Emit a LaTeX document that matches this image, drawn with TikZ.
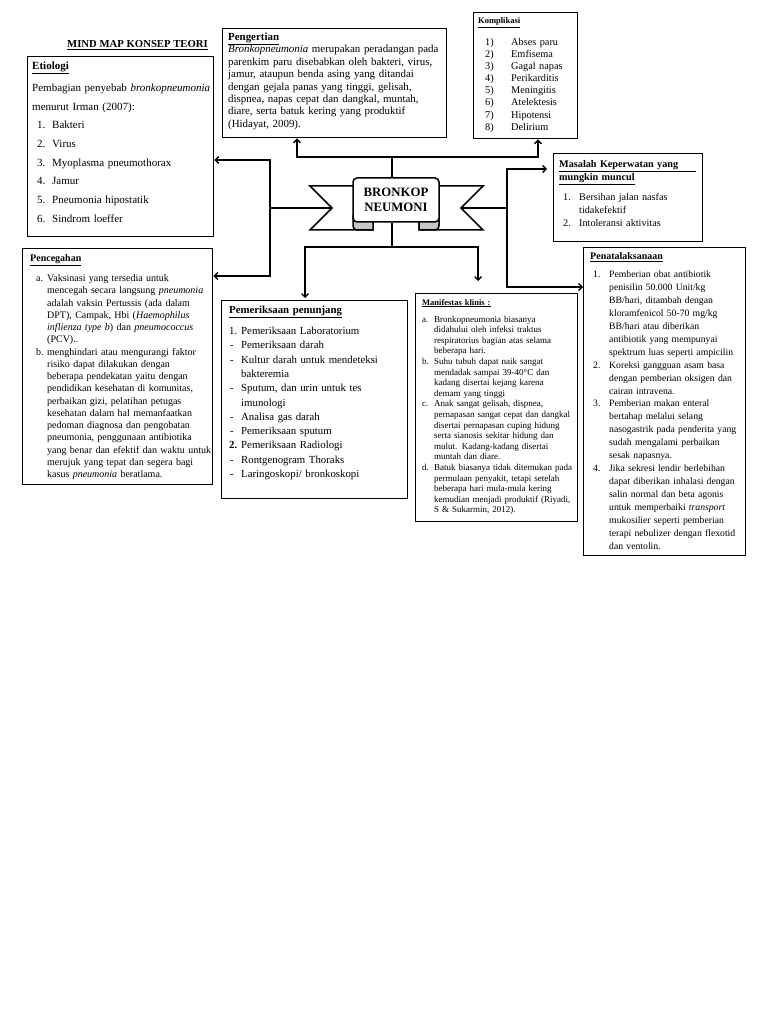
\documentclass[tikz,border=0pt]{standalone}
\usepackage{fontspec}
\setmainfont{Liberation Serif}
\usetikzlibrary{arrows.meta}
\newcommand\J[1]{\makebox[\dimexpr\linewidth-\leftskip\relax][s]{#1}}
\newcommand\li[4]{{\leftskip=\dimexpr#1+#2\relax\noindent\hspace*{-#2}\makebox[#2][l]{#3}#4\par}}
\newcommand\hd[1]{\textbf{\underline{#1}}}
\begin{document}
\begin{tikzpicture}[x=1pt,y=-1pt]
\tikzset{
  frame/.style={draw, line width=1.3pt, inner sep=0pt, anchor=north west},
  txt/.style={anchor=base west, inner sep=0pt},
  conn/.style={line width=1.4pt},
  arr/.style={conn, -{Straight Barb[length=3.5pt,width=7pt]}},
  ribbon/.style={line width=1.5pt, fill=white},
  fold/.style={line width=1.5pt, fill=gray!45},
}
\fill[white] (0,0) rectangle (768,1024);
\useasboundingbox (0,0) rectangle (768,1024);

% title
\node[txt, font=\fontsize{10.7}{12}\selectfont\bfseries] (title) at (67,47.5) {\underline{MIND MAP KONSEP TEORI}};

% frames
\node[frame, minimum width=186pt, minimum height=180pt] (eti) at (27,56) {};
\node[frame, minimum width=224pt, minimum height=109pt] (peng) at (222,28) {};
\node[frame, minimum width=104pt, minimum height=126pt] (komp) at (473,12) {};
\node[frame, minimum width=149pt, minimum height=88pt] (mas) at (553,153) {};
\node[frame, minimum width=190pt, minimum height=236pt] (pcg) at (22,248) {};
\node[frame, minimum width=186pt, minimum height=198pt] (pem) at (221,300) {};
\node[frame, minimum width=162pt, minimum height=228pt] (man) at (415,293) {};
\node[frame, minimum width=162pt, minimum height=308pt] (pnt) at (583,247) {};

% Etiologi
\node[txt, text width=178pt, font=\fontsize{11}{18.7}\selectfont] (etiT) at (32,69.5) {%
\hd{Etiologi}\par\vspace{3.3pt}
Pembagian penyebab \textit{bronkopneumonia}\par
menurut Irman (2007):\par
\li{5pt}{15pt}{1.}{Bakteri}
\li{5pt}{15pt}{2.}{Virus}
\li{5pt}{15pt}{3.}{Myoplasma pneumothorax}
\li{5pt}{15pt}{4.}{Jamur}
\li{5pt}{15pt}{5.}{Pneumonia hipostatik}
\li{5pt}{15pt}{6.}{Sindrom loeffer}};

% Pengertian
\node[txt, text width=218pt, font=\fontsize{10.9}{12.4}\selectfont] (pengT) at (228,40.5) {%
\hd{Pengertian}\\
\textit{Bronkopneumonia} merupakan peradangan pada\\
parenkim paru disebabkan oleh bakteri, virus,\\
jamur, ataupun benda asing yang ditandai\\
dengan gejala panas yang tinggi, gelisah,\\
dispnea, napas cepat dan dangkal, muntah,\\
diare, serta batuk kering yang produktif\\
(Hidayat, 2009).};

% Komplikasi
\node[txt, text width=96pt, font=\fontsize{10.3}{12.1}\selectfont] (kompT) at (478,24) {%
{\fontsize{8.5}{10}\selectfont\hd{Komplikasi}}\par\vspace{9.4pt}
\li{7pt}{26pt}{1)}{Abses paru}
\li{7pt}{26pt}{2)}{Emfisema}
\li{7pt}{26pt}{3)}{Gagal napas}
\li{7pt}{26pt}{4)}{Perikarditis}
\li{7pt}{26pt}{5)}{Meningitis}
\li{7pt}{26pt}{6)}{Atelektesis}
\li{7pt}{26pt}{7)}{Hipotensi}
\li{7pt}{26pt}{8)}{Delirium}};

% Masalah
\node[txt, text width=137pt, font=\fontsize{10.2}{13}\selectfont] (masT) at (559,167.5) {%
\textbf{\underline{\J{Masalah Keperwatan yang}}}\par
\hd{mungkin muncul}\par\vspace{7pt}
\li{4pt}{16pt}{1.}{\J{Bersihan jalan nasfas}\\tidakefektif}
\li{4pt}{16pt}{2.}{Intoleransi aktivitas}};

% Pencegahan
\node[txt, text width=175pt, font=\fontsize{10}{12.25}\selectfont] (pcgT) at (30,261.5) {%
\hd{Pencegahan}\par\vspace{7.75pt}
\li{6pt}{11pt}{a.}{\J{Vaksinasi yang tersedia untuk}\\
\J{mencegah secara langsung \textit{pneumonia}}\\
\J{adalah vaksin Pertussis (ada dalam}\\
\J{DPT), Campak, Hbi (\textit{Haemophilus}}\\
\J{\textit{inflienza type b}) dan \textit{pneumococcus}}\\
(PCV)..}
\li{6pt}{11pt}{b.}{\J{menghindari atau mengurangi faktor}\\
\J{risiko dapat dilakukan dengan}\\
\J{beberapa pendekatan yaitu dengan}\\
\J{pendidikan kesehatan di komunitas,}\\
\J{perbaikan gizi, pelatihan petugas}\\
\J{kesehatan dalam hal memanfaatkan}\\
\J{pedoman diagnosa dan pengobatan}\\
\J{pneumonia, penggunaan antibiotika}\\
\J{yang benar dan efektif dan waktu untuk}\\
\J{merujuk yang tepat dan segera bagi}\\
\J{kasus \textit{pneumonia} beratlama.}}};

% Pemeriksaan
\node[txt, text width=171pt, font=\fontsize{10.8}{14.3}\selectfont] (pemT) at (229,313.5) {%
\hd{Pemeriksaan penunjang}\par\vspace{6.7pt}
\li{0pt}{12pt}{1.}{Pemeriksaan Laboratorium}
\li{1pt}{11pt}{-}{Pemeriksaan darah}
\li{1pt}{11pt}{-}{\J{Kultur darah untuk mendeteksi}\\bakteremia}
\li{1pt}{11pt}{-}{\J{Sputum, dan urin untuk tes}\\imunologi}
\li{1pt}{11pt}{-}{Analisa gas darah}
\li{1pt}{11pt}{-}{Pemeriksaan sputum}
\li{0pt}{12pt}{\textbf{2.}}{Pemeriksaan Radiologi}
\li{1pt}{11pt}{-}{Rontgenogram Thoraks}
\li{1pt}{11pt}{-}{Laringoskopi/ bronkoskopi}};

% Manifestasi
\node[txt, text width=149pt, font=\fontsize{9}{10.6}\selectfont] (manT) at (422,305) {%
{\fontsize{8.5}{10}\selectfont\hd{Manifestas klinis :}}\par\vspace{6.4pt}
\li{0pt}{12pt}{a.}{\J{Bronkopneumonia biasanya}\\
\J{didahului oleh infeksi traktus}\\
\J{respiratorius bagian atas selama}\\
beberapa hari.}
\li{0pt}{12pt}{b.}{\J{Suhu tubuh dapat naik sangat}\\
\J{mendadak sampai 39-40°C dan}\\
\J{kadang disertai kejang karena}\\
demam yang tinggi}
\li{0pt}{12pt}{c.}{\J{Anak sangat gelisah, dispnea,}\\
\J{pernapasan sangat cepat dan dangkal}\\
\J{disertai pernapasan cuping hidung}\\
\J{serta sianosis sekitar hidung dan}\\
\J{mulut. Kadang-kadang disertai}\\
muntah dan diare.}
\li{0pt}{12pt}{d.}{\J{Batuk biasanya tidak ditemukan pada}\\
\J{permulaan penyakit, tetapi setelah}\\
\J{beberapa hari mula-mula kering}\\
\J{kemudian menjadi produktif (Riyadi,}\\
S \& Sukarmin, 2012).}};

% Penatalaksanaan
\node[txt, text width=148pt, font=\fontsize{9.7}{12.95}\selectfont] (pntT) at (590,259.5) {%
{\fontsize{10}{12}\selectfont\hd{Penatalaksanaan}}\par\vspace{5pt}
\li{3pt}{16pt}{1.}{\J{Pemberian obat antibiotik}\\
\J{penisilin 50.000 Unit/kg}\\
\J{BB/hari, ditambah dengan}\\
\J{kloramfenicol 50-70 mg/kg}\\
\J{BB/hari atau diberikan}\\
\J{antibiotik yang mempunyai}\\
\J{spektrum luas seperti ampicilin}}
\li{3pt}{16pt}{2.}{\J{Koreksi gangguan asam basa}\\
\J{dengan pemberian oksigen dan}\\
cairan intravena.}
\li{3pt}{16pt}{3.}{\J{Pemberian makan enteral}\\
\J{bertahap melalui selang}\\
\J{nasogastrik pada penderita yang}\\
\J{sudah mengalami perbaikan}\\
sesak napasnya.}
\li{3pt}{16pt}{4.}{\J{Jika sekresi lendir berlebihan}\\
\J{dapat diberikan inhalasi dengan}\\
\J{salin normal dan beta agonis}\\
\J{untuk memperbaiki \textit{transport}}\\
\J{mukosilier seperti pemberian}\\
\J{terapi nebulizer dengan flexotid}\\
dan ventolin.}};

% ribbon
\draw[ribbon] (373,222) -- (373,230) -- (310,230) -- (332,208) -- (310,186) -- (360,186) -- cycle;
\draw[ribbon] (419,222) -- (419,230) -- (483,230) -- (461,208) -- (483,186) -- (432,186) -- cycle;
\draw[fold] (353,216) -- (353,225) .. controls (353,229) and (355,230) .. (359,230) -- (373,230) -- (373,220) -- cycle;
\draw[fold] (439,216) -- (439,225) .. controls (439,229) and (437,230) .. (433,230) -- (419,230) -- (419,220) -- cycle;
\node[draw, line width=1.5pt, fill=white, rounded corners=4pt, minimum width=86pt, minimum height=44pt,
      inner sep=0pt, align=center, font=\fontsize{12.8}{15}\selectfont\bfseries] (ctr) at (396,200) {BRONKOP\\NEUMONI};
\coordinate (lnotch) at (332,208);
\coordinate (rnotch) at (461,208);

% connectors
\coordinate (tj) at (392,157);
\coordinate (pa) at (297,157);
\coordinate (ka) at (538,157);
\draw[conn] (tj |- ctr.north) -- (tj);
\draw[arr] (tj) -- (pa) -- (pa |- peng.south);
\draw[arr] (tj) -- (ka) -- (ka |- komp.south);

\coordinate (lj) at (270,208);
\coordinate (l1) at (270,160);
\coordinate (l2) at (270,276);
\draw[conn, line width=2pt] (lnotch) -- (lj);
\draw[arr] (lj) -- (l1) -- (eti.east |- l1);
\draw[arr] (lj) -- (l2) -- (pcg.east |- l2);

\coordinate (rj) at (507,208);
\coordinate (r1) at (507,169);
\coordinate (r2) at (507,287);
\draw[conn, line width=2pt] (rnotch) -- (rj);
\draw[arr, shorten >=6pt] (rj) -- (r1) -- (mas.west |- r1);
\draw[arr] (rj) -- (r2) -- (pnt.west |- r2);

\coordinate (bj) at (392,247);
\coordinate (b1) at (305,247);
\coordinate (b2) at (478,247);
\draw[conn] (bj |- ctr.south) -- (bj);
\draw[arr, shorten >=2pt] (bj) -- (b1) -- (b1 |- pem.north);
\draw[arr, shorten >=12pt] (bj) -- (b2) -- (b2 |- man.north);
\end{tikzpicture}
\end{document}
